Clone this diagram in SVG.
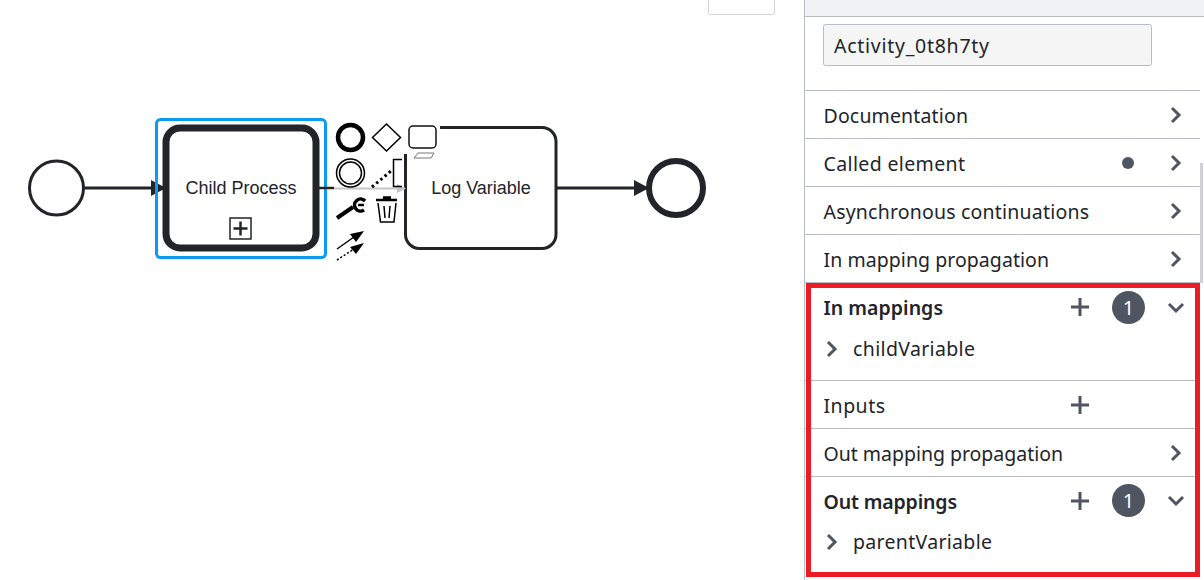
<svg xmlns="http://www.w3.org/2000/svg" width="1204" height="580" viewBox="0 0 1204 580">
<style>
.ink{fill:none;stroke:#22242a;stroke-width:3}
.lbl{font-family:"Liberation Sans",Arial,sans-serif;font-size:18px;fill:#22242a;text-anchor:middle}
.t{font-family:"Noto Sans","Open Sans",sans-serif;font-size:19.500px;fill:#22242a}
.b{font-weight:600}
.sep{stroke:#b9bcc6;stroke-width:1;fill:none}
.ic{fill:none;stroke:#505562;stroke-width:3}
.cnt{fill:#fff;font-family:"Noto Sans",sans-serif;font-size:20px;text-anchor:middle}
.k{fill:none;stroke:#000}
</style>
<defs>
<marker id="arrow" markerUnits="userSpaceOnUse" markerWidth="18" markerHeight="18" refX="16" refY="9" orient="auto"><path d="M1 1L16 9L1 17Z" fill="#22242a"/></marker>
<g id="chev"><path d="M-4 -7L3 0L-4 7" class="ic"/></g>
<g id="plus"><path d="M-9 0H9M0 -9V9" class="ic"/></g>
</defs>
<rect width="1204" height="580" fill="#fff"/>
<rect x="708.500" y="-6" width="66" height="20.500" rx="2" fill="#fff" stroke="#d4d6da"/>
<g id="connectors">
<path d="M84 188H166" class="ink" marker-end="url(#arrow)"/>
<path d="M556 188H649" class="ink" marker-end="url(#arrow)"/>
</g>
<g id="start-event"><circle cx="56.500" cy="188" r="27" fill="#fff" stroke="#22242a" stroke-width="3"/></g>
<g id="child-process">
<rect x="156.500" y="119.500" width="169" height="138" rx="4" fill="none" stroke="#0d9bf2" stroke-width="3"/>
<rect x="166" y="128" width="150" height="120" rx="14" fill="#fff" stroke="#22242a" stroke-width="7"/>
<text x="241" y="193.500" class="lbl">Child Process</text>
<rect x="230" y="218" width="21" height="21" fill="#fff" stroke="#22242a" stroke-width="1.500"/>
<path d="M233.500 228.500H247.500M240.500 221.500V235.500" fill="none" stroke="#22242a" stroke-width="2.500"/>
</g>
<g id="log-variable">
<rect x="405.500" y="127.500" width="150.500" height="121" rx="14" fill="#fff" stroke="#22242a" stroke-width="3"/>
<text x="481" y="193.500" class="lbl">Log Variable</text>
</g>
<g id="end-event"><circle cx="676" cy="188" r="27" fill="#fff" stroke="#22242a" stroke-width="6"/></g>
<g id="flow-under-pad">
<path d="M319 188H334" fill="none" stroke="#22242a" stroke-width="2.500"/>
<path d="M334 188.500H405" fill="none" stroke="#c4c5c8" stroke-width="2"/>
<path d="M397 184L406 188.500L397 193" fill="#c4c5c8"/>
</g>
<g id="context-pad">
<rect x="404" y="118" width="36" height="36" fill="#fff"/>
<circle cx="350.500" cy="137.500" r="12.500" class="k" stroke-width="4.500"/>
<path d="M386.500 124L400.500 137.500L386.500 151L372.500 137.500Z" class="k" stroke-width="1.500"/>
<rect x="409" y="126" width="27" height="22" rx="4" fill="#fff" stroke="#111" stroke-width="1.500"/>
<path d="M414 158L418 153H434L431 158Z" fill="none" stroke="#777" stroke-width="1"/>
<circle cx="350.500" cy="173" r="14" class="k" stroke-width="1.500"/>
<circle cx="350.500" cy="173" r="11" class="k" stroke-width="1.500"/>
<path d="M372 187L391 171" class="k" stroke-width="3" stroke-dasharray="2.500 3"/>
<path d="M402 159.500H393.500V186.500H402" class="k" stroke-width="1.500"/>
<path d="M337 218L353 207" class="k" stroke-width="4"/>
<path d="M365 201A6 6 0 1 0 364 210" class="k" stroke-width="3.500"/>
<path d="M358 205H364" class="k" stroke-width="2.500"/>
<path d="M376 200H397M383 197.500H391" class="k" stroke-width="2.500"/>
<path d="M378 203L380.500 222H394L396 203M384 206L385 218M390 206L389 218" class="k" stroke-width="1.500"/>
<path d="M337 249L354 237" class="k" stroke-width="1.500"/>
<path d="M364 231L350 234L356 242Z" fill="#000"/>
<path d="M337 260L354 249" class="k" stroke-width="1.500" stroke-dasharray="2 2"/>
<path d="M364 243L350 247L356 254Z" fill="#000"/>
</g>
<g id="properties-panel">
<rect x="804" y="0" width="400" height="580" fill="#fff"/>
<rect x="805" y="0" width="399" height="16" fill="#f1f2f4"/>
<path d="M804.500 0V580" class="sep"/>
<rect x="823.500" y="24.500" width="328" height="41" rx="2" fill="#f5f5f6" stroke="#b9bcc6"/>
<text x="834" y="52.500" class="t" textLength="155" lengthAdjust="spacing">Activity_0t8h7ty</text>
<path d="M805 16.500H1204M805 90.500H1200M805 138.500H1200M805 186.500H1200M805 234.500H1200M805 282.500H1200M805 380.500H1200M805 428.500H1200M805 476.500H1200" class="sep"/>
<rect x="1200" y="163" width="3" height="120" fill="#cfd1d6"/>
<text x="823.500" y="123" class="t" textLength="144.500">Documentation</text>
<use href="#chev" x="1176" y="115"/>
<text x="823.500" y="171" class="t" textLength="141.500">Called element</text>
<circle cx="1128" cy="163" r="6" fill="#505562"/>
<use href="#chev" x="1176" y="163"/>
<text x="823.500" y="219" class="t" textLength="265.500">Asynchronous continuations</text>
<use href="#chev" x="1176" y="211"/>
<text x="823.500" y="267" class="t" textLength="225.500">In mapping propagation</text>
<use href="#chev" x="1176" y="259"/>
<text x="823.500" y="315" class="t b" textLength="119.500">In mappings</text>
<use href="#plus" x="1080" y="307"/>
<circle cx="1128.500" cy="307.500" r="16.500" fill="#505562"/>
<text x="1128.500" y="314.500" class="cnt">1</text>
<path d="M1169 304L1176 311L1183 304" class="ic"/>
<use href="#chev" x="832" y="349"/>
<text x="853" y="356" class="t" textLength="122">childVariable</text>
<text x="823.500" y="413" class="t" textLength="61.500">Inputs</text>
<use href="#plus" x="1080" y="405"/>
<text x="823.500" y="461" class="t" textLength="239.500">Out mapping propagation</text>
<use href="#chev" x="1176" y="453"/>
<text x="823.500" y="509" class="t b" textLength="133.500">Out mappings</text>
<use href="#plus" x="1080" y="501"/>
<circle cx="1128.500" cy="500.500" r="16.500" fill="#505562"/>
<text x="1128.500" y="507.500" class="cnt">1</text>
<path d="M1169 497L1176 504L1183 497" class="ic"/>
<use href="#chev" x="832" y="542"/>
<text x="853" y="549" class="t" textLength="139">parentVariable</text>
<rect x="808.500" y="285.500" width="389" height="289" fill="none" stroke="#ed1c24" stroke-width="5"/>
</g>
</svg>
